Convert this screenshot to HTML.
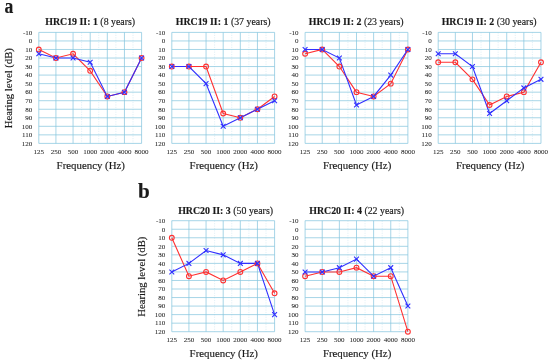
<!DOCTYPE html><html><head><meta charset="utf-8"><title>Audiograms</title><style>html,body{margin:0;padding:0;background:#fff}svg{display:block}</style></head><body><svg width="550" height="364" viewBox="0 0 550 364" font-family="'Liberation Serif', serif" fill="#1a1a1a" stroke="#1a1a1a" stroke-width="0.16">
<rect width="550" height="364" fill="#fff" stroke="none"/>
<line x1="81.62" y1="32.40" x2="81.62" y2="143.40" stroke="#cfe8f2" stroke-width="0.6" stroke-dasharray="1.2 1.2"/>
<line x1="98.75" y1="32.40" x2="98.75" y2="143.40" stroke="#cfe8f2" stroke-width="0.6" stroke-dasharray="1.2 1.2"/>
<line x1="115.88" y1="32.40" x2="115.88" y2="143.40" stroke="#cfe8f2" stroke-width="0.6" stroke-dasharray="1.2 1.2"/>
<line x1="133.01" y1="32.40" x2="133.01" y2="143.40" stroke="#cfe8f2" stroke-width="0.6" stroke-dasharray="1.2 1.2"/>
<line x1="38.80" y1="32.40" x2="38.80" y2="143.40" stroke="#84c4de" stroke-width="0.72"/>
<line x1="55.93" y1="32.40" x2="55.93" y2="143.40" stroke="#84c4de" stroke-width="0.72"/>
<line x1="73.06" y1="32.40" x2="73.06" y2="143.40" stroke="#84c4de" stroke-width="0.72"/>
<line x1="90.19" y1="32.40" x2="90.19" y2="143.40" stroke="#84c4de" stroke-width="0.72"/>
<line x1="107.32" y1="32.40" x2="107.32" y2="143.40" stroke="#84c4de" stroke-width="0.72"/>
<line x1="124.45" y1="32.40" x2="124.45" y2="143.40" stroke="#84c4de" stroke-width="0.72"/>
<line x1="141.58" y1="32.40" x2="141.58" y2="143.40" stroke="#84c4de" stroke-width="0.72"/>
<line x1="38.80" y1="32.40" x2="141.58" y2="32.40" stroke="#84c4de" stroke-width="0.72"/>
<text x="32.30" y="34.70" font-size="7" stroke-width="0.05" fill="#242424" text-anchor="end">-10</text>
<line x1="38.80" y1="40.94" x2="141.58" y2="40.94" stroke="#84c4de" stroke-width="0.72"/>
<text x="32.30" y="43.24" font-size="7" stroke-width="0.05" fill="#242424" text-anchor="end">0</text>
<line x1="38.80" y1="49.48" x2="141.58" y2="49.48" stroke="#84c4de" stroke-width="0.72"/>
<text x="32.30" y="51.78" font-size="7" stroke-width="0.05" fill="#242424" text-anchor="end">10</text>
<line x1="38.80" y1="58.02" x2="141.58" y2="58.02" stroke="#84c4de" stroke-width="0.72"/>
<text x="32.30" y="60.32" font-size="7" stroke-width="0.05" fill="#242424" text-anchor="end">20</text>
<line x1="38.80" y1="66.55" x2="141.58" y2="66.55" stroke="#84c4de" stroke-width="0.72"/>
<text x="32.30" y="68.85" font-size="7" stroke-width="0.05" fill="#242424" text-anchor="end">30</text>
<line x1="38.80" y1="75.09" x2="141.58" y2="75.09" stroke="#84c4de" stroke-width="0.72"/>
<text x="32.30" y="77.39" font-size="7" stroke-width="0.05" fill="#242424" text-anchor="end">40</text>
<line x1="38.80" y1="83.63" x2="141.58" y2="83.63" stroke="#84c4de" stroke-width="0.72"/>
<text x="32.30" y="85.93" font-size="7" stroke-width="0.05" fill="#242424" text-anchor="end">50</text>
<line x1="38.80" y1="92.17" x2="141.58" y2="92.17" stroke="#84c4de" stroke-width="0.72"/>
<text x="32.30" y="94.47" font-size="7" stroke-width="0.05" fill="#242424" text-anchor="end">60</text>
<line x1="38.80" y1="100.71" x2="141.58" y2="100.71" stroke="#84c4de" stroke-width="0.72"/>
<text x="32.30" y="103.01" font-size="7" stroke-width="0.05" fill="#242424" text-anchor="end">70</text>
<line x1="38.80" y1="109.25" x2="141.58" y2="109.25" stroke="#84c4de" stroke-width="0.72"/>
<text x="32.30" y="111.55" font-size="7" stroke-width="0.05" fill="#242424" text-anchor="end">80</text>
<line x1="38.80" y1="117.78" x2="141.58" y2="117.78" stroke="#84c4de" stroke-width="0.72"/>
<text x="32.30" y="120.08" font-size="7" stroke-width="0.05" fill="#242424" text-anchor="end">90</text>
<line x1="38.80" y1="126.32" x2="141.58" y2="126.32" stroke="#84c4de" stroke-width="0.72"/>
<text x="32.30" y="128.62" font-size="7" stroke-width="0.05" fill="#242424" text-anchor="end">100</text>
<line x1="38.80" y1="134.86" x2="141.58" y2="134.86" stroke="#84c4de" stroke-width="0.72"/>
<text x="32.30" y="137.16" font-size="7" stroke-width="0.05" fill="#242424" text-anchor="end">110</text>
<line x1="38.80" y1="143.40" x2="141.58" y2="143.40" stroke="#84c4de" stroke-width="0.72"/>
<text x="32.30" y="145.70" font-size="7" stroke-width="0.05" fill="#242424" text-anchor="end">120</text>
<text x="38.80" y="153.60" font-size="7" stroke-width="0.05" fill="#242424" text-anchor="middle">125</text>
<text x="55.93" y="153.60" font-size="7" stroke-width="0.05" fill="#242424" text-anchor="middle">250</text>
<text x="73.06" y="153.60" font-size="7" stroke-width="0.05" fill="#242424" text-anchor="middle">500</text>
<text x="90.19" y="153.60" font-size="7" stroke-width="0.05" fill="#242424" text-anchor="middle">1000</text>
<text x="107.32" y="153.60" font-size="7" stroke-width="0.05" fill="#242424" text-anchor="middle">2000</text>
<text x="124.45" y="153.60" font-size="7" stroke-width="0.05" fill="#242424" text-anchor="middle">4000</text>
<text x="141.58" y="153.60" font-size="7" stroke-width="0.05" fill="#242424" text-anchor="middle">8000</text>
<text x="90.79" y="169.10" font-size="10.85" text-anchor="middle">Frequency (Hz)</text>
<text x="90.19" y="25.40" font-size="9.9" text-anchor="middle"><tspan font-weight="bold">HRC19 II: 1</tspan> (8 years)</text>
<polyline fill="none" stroke="#ff3030" stroke-width="1.1" points="38.80,49.48 55.93,58.02 73.06,53.75 90.19,70.82 107.32,96.44 124.45,92.17 141.58,58.02"/>
<polyline fill="none" stroke="#3030ff" stroke-width="1.1" points="38.80,53.75 55.93,58.02 73.06,58.02 90.19,62.28 107.32,96.44 124.45,92.17 141.58,58.02"/>
<circle cx="38.80" cy="49.48" r="2.4" fill="none" stroke="#ff3030" stroke-width="1.1"/>
<circle cx="55.93" cy="58.02" r="2.4" fill="none" stroke="#ff3030" stroke-width="1.1"/>
<circle cx="73.06" cy="53.75" r="2.4" fill="none" stroke="#ff3030" stroke-width="1.1"/>
<circle cx="90.19" cy="70.82" r="2.4" fill="none" stroke="#ff3030" stroke-width="1.1"/>
<circle cx="107.32" cy="96.44" r="2.4" fill="none" stroke="#ff3030" stroke-width="1.1"/>
<circle cx="124.45" cy="92.17" r="2.4" fill="none" stroke="#ff3030" stroke-width="1.1"/>
<circle cx="141.58" cy="58.02" r="2.4" fill="none" stroke="#ff3030" stroke-width="1.1"/>
<path d="M36.40 51.35L41.20 56.15M36.40 56.15L41.20 51.35" fill="none" stroke="#3030ff" stroke-width="1.1"/>
<path d="M53.53 55.62L58.33 60.42M53.53 60.42L58.33 55.62" fill="none" stroke="#3030ff" stroke-width="1.1"/>
<path d="M70.66 55.62L75.46 60.42M70.66 60.42L75.46 55.62" fill="none" stroke="#3030ff" stroke-width="1.1"/>
<path d="M87.79 59.88L92.59 64.68M87.79 64.68L92.59 59.88" fill="none" stroke="#3030ff" stroke-width="1.1"/>
<path d="M104.92 94.04L109.72 98.84M104.92 98.84L109.72 94.04" fill="none" stroke="#3030ff" stroke-width="1.1"/>
<path d="M122.05 89.77L126.85 94.57M122.05 94.57L126.85 89.77" fill="none" stroke="#3030ff" stroke-width="1.1"/>
<path d="M139.18 55.62L143.98 60.42M139.18 60.42L143.98 55.62" fill="none" stroke="#3030ff" stroke-width="1.1"/>
<line x1="214.62" y1="32.40" x2="214.62" y2="143.40" stroke="#cfe8f2" stroke-width="0.6" stroke-dasharray="1.2 1.2"/>
<line x1="231.75" y1="32.40" x2="231.75" y2="143.40" stroke="#cfe8f2" stroke-width="0.6" stroke-dasharray="1.2 1.2"/>
<line x1="248.88" y1="32.40" x2="248.88" y2="143.40" stroke="#cfe8f2" stroke-width="0.6" stroke-dasharray="1.2 1.2"/>
<line x1="266.01" y1="32.40" x2="266.01" y2="143.40" stroke="#cfe8f2" stroke-width="0.6" stroke-dasharray="1.2 1.2"/>
<line x1="171.80" y1="32.40" x2="171.80" y2="143.40" stroke="#84c4de" stroke-width="0.72"/>
<line x1="188.93" y1="32.40" x2="188.93" y2="143.40" stroke="#84c4de" stroke-width="0.72"/>
<line x1="206.06" y1="32.40" x2="206.06" y2="143.40" stroke="#84c4de" stroke-width="0.72"/>
<line x1="223.19" y1="32.40" x2="223.19" y2="143.40" stroke="#84c4de" stroke-width="0.72"/>
<line x1="240.32" y1="32.40" x2="240.32" y2="143.40" stroke="#84c4de" stroke-width="0.72"/>
<line x1="257.45" y1="32.40" x2="257.45" y2="143.40" stroke="#84c4de" stroke-width="0.72"/>
<line x1="274.58" y1="32.40" x2="274.58" y2="143.40" stroke="#84c4de" stroke-width="0.72"/>
<line x1="171.80" y1="32.40" x2="274.58" y2="32.40" stroke="#84c4de" stroke-width="0.72"/>
<text x="165.30" y="34.70" font-size="7" stroke-width="0.05" fill="#242424" text-anchor="end">-10</text>
<line x1="171.80" y1="40.94" x2="274.58" y2="40.94" stroke="#84c4de" stroke-width="0.72"/>
<text x="165.30" y="43.24" font-size="7" stroke-width="0.05" fill="#242424" text-anchor="end">0</text>
<line x1="171.80" y1="49.48" x2="274.58" y2="49.48" stroke="#84c4de" stroke-width="0.72"/>
<text x="165.30" y="51.78" font-size="7" stroke-width="0.05" fill="#242424" text-anchor="end">10</text>
<line x1="171.80" y1="58.02" x2="274.58" y2="58.02" stroke="#84c4de" stroke-width="0.72"/>
<text x="165.30" y="60.32" font-size="7" stroke-width="0.05" fill="#242424" text-anchor="end">20</text>
<line x1="171.80" y1="66.55" x2="274.58" y2="66.55" stroke="#84c4de" stroke-width="0.72"/>
<text x="165.30" y="68.85" font-size="7" stroke-width="0.05" fill="#242424" text-anchor="end">30</text>
<line x1="171.80" y1="75.09" x2="274.58" y2="75.09" stroke="#84c4de" stroke-width="0.72"/>
<text x="165.30" y="77.39" font-size="7" stroke-width="0.05" fill="#242424" text-anchor="end">40</text>
<line x1="171.80" y1="83.63" x2="274.58" y2="83.63" stroke="#84c4de" stroke-width="0.72"/>
<text x="165.30" y="85.93" font-size="7" stroke-width="0.05" fill="#242424" text-anchor="end">50</text>
<line x1="171.80" y1="92.17" x2="274.58" y2="92.17" stroke="#84c4de" stroke-width="0.72"/>
<text x="165.30" y="94.47" font-size="7" stroke-width="0.05" fill="#242424" text-anchor="end">60</text>
<line x1="171.80" y1="100.71" x2="274.58" y2="100.71" stroke="#84c4de" stroke-width="0.72"/>
<text x="165.30" y="103.01" font-size="7" stroke-width="0.05" fill="#242424" text-anchor="end">70</text>
<line x1="171.80" y1="109.25" x2="274.58" y2="109.25" stroke="#84c4de" stroke-width="0.72"/>
<text x="165.30" y="111.55" font-size="7" stroke-width="0.05" fill="#242424" text-anchor="end">80</text>
<line x1="171.80" y1="117.78" x2="274.58" y2="117.78" stroke="#84c4de" stroke-width="0.72"/>
<text x="165.30" y="120.08" font-size="7" stroke-width="0.05" fill="#242424" text-anchor="end">90</text>
<line x1="171.80" y1="126.32" x2="274.58" y2="126.32" stroke="#84c4de" stroke-width="0.72"/>
<text x="165.30" y="128.62" font-size="7" stroke-width="0.05" fill="#242424" text-anchor="end">100</text>
<line x1="171.80" y1="134.86" x2="274.58" y2="134.86" stroke="#84c4de" stroke-width="0.72"/>
<text x="165.30" y="137.16" font-size="7" stroke-width="0.05" fill="#242424" text-anchor="end">110</text>
<line x1="171.80" y1="143.40" x2="274.58" y2="143.40" stroke="#84c4de" stroke-width="0.72"/>
<text x="165.30" y="145.70" font-size="7" stroke-width="0.05" fill="#242424" text-anchor="end">120</text>
<text x="171.80" y="153.60" font-size="7" stroke-width="0.05" fill="#242424" text-anchor="middle">125</text>
<text x="188.93" y="153.60" font-size="7" stroke-width="0.05" fill="#242424" text-anchor="middle">250</text>
<text x="206.06" y="153.60" font-size="7" stroke-width="0.05" fill="#242424" text-anchor="middle">500</text>
<text x="223.19" y="153.60" font-size="7" stroke-width="0.05" fill="#242424" text-anchor="middle">1000</text>
<text x="240.32" y="153.60" font-size="7" stroke-width="0.05" fill="#242424" text-anchor="middle">2000</text>
<text x="257.45" y="153.60" font-size="7" stroke-width="0.05" fill="#242424" text-anchor="middle">4000</text>
<text x="274.58" y="153.60" font-size="7" stroke-width="0.05" fill="#242424" text-anchor="middle">8000</text>
<text x="223.79" y="169.10" font-size="10.85" text-anchor="middle">Frequency (Hz)</text>
<text x="223.19" y="25.40" font-size="9.9" text-anchor="middle"><tspan font-weight="bold">HRC19 II: 1</tspan> (37 years)</text>
<polyline fill="none" stroke="#ff3030" stroke-width="1.1" points="171.80,66.55 188.93,66.55 206.06,66.55 223.19,113.52 240.32,117.78 257.45,109.25 274.58,96.44"/>
<polyline fill="none" stroke="#3030ff" stroke-width="1.1" points="171.80,66.55 188.93,66.55 206.06,83.63 223.19,126.32 240.32,117.78 257.45,109.25 274.58,100.71"/>
<circle cx="171.80" cy="66.55" r="2.4" fill="none" stroke="#ff3030" stroke-width="1.1"/>
<circle cx="188.93" cy="66.55" r="2.4" fill="none" stroke="#ff3030" stroke-width="1.1"/>
<circle cx="206.06" cy="66.55" r="2.4" fill="none" stroke="#ff3030" stroke-width="1.1"/>
<circle cx="223.19" cy="113.52" r="2.4" fill="none" stroke="#ff3030" stroke-width="1.1"/>
<circle cx="240.32" cy="117.78" r="2.4" fill="none" stroke="#ff3030" stroke-width="1.1"/>
<circle cx="257.45" cy="109.25" r="2.4" fill="none" stroke="#ff3030" stroke-width="1.1"/>
<circle cx="274.58" cy="96.44" r="2.4" fill="none" stroke="#ff3030" stroke-width="1.1"/>
<path d="M169.40 64.15L174.20 68.95M169.40 68.95L174.20 64.15" fill="none" stroke="#3030ff" stroke-width="1.1"/>
<path d="M186.53 64.15L191.33 68.95M186.53 68.95L191.33 64.15" fill="none" stroke="#3030ff" stroke-width="1.1"/>
<path d="M203.66 81.23L208.46 86.03M203.66 86.03L208.46 81.23" fill="none" stroke="#3030ff" stroke-width="1.1"/>
<path d="M220.79 123.92L225.59 128.72M220.79 128.72L225.59 123.92" fill="none" stroke="#3030ff" stroke-width="1.1"/>
<path d="M237.92 115.38L242.72 120.18M237.92 120.18L242.72 115.38" fill="none" stroke="#3030ff" stroke-width="1.1"/>
<path d="M255.05 106.85L259.85 111.65M255.05 111.65L259.85 106.85" fill="none" stroke="#3030ff" stroke-width="1.1"/>
<path d="M272.18 98.31L276.98 103.11M272.18 103.11L276.98 98.31" fill="none" stroke="#3030ff" stroke-width="1.1"/>
<line x1="347.93" y1="32.40" x2="347.93" y2="143.40" stroke="#cfe8f2" stroke-width="0.6" stroke-dasharray="1.2 1.2"/>
<line x1="365.06" y1="32.40" x2="365.06" y2="143.40" stroke="#cfe8f2" stroke-width="0.6" stroke-dasharray="1.2 1.2"/>
<line x1="382.19" y1="32.40" x2="382.19" y2="143.40" stroke="#cfe8f2" stroke-width="0.6" stroke-dasharray="1.2 1.2"/>
<line x1="399.31" y1="32.40" x2="399.31" y2="143.40" stroke="#cfe8f2" stroke-width="0.6" stroke-dasharray="1.2 1.2"/>
<line x1="305.10" y1="32.40" x2="305.10" y2="143.40" stroke="#84c4de" stroke-width="0.72"/>
<line x1="322.23" y1="32.40" x2="322.23" y2="143.40" stroke="#84c4de" stroke-width="0.72"/>
<line x1="339.36" y1="32.40" x2="339.36" y2="143.40" stroke="#84c4de" stroke-width="0.72"/>
<line x1="356.49" y1="32.40" x2="356.49" y2="143.40" stroke="#84c4de" stroke-width="0.72"/>
<line x1="373.62" y1="32.40" x2="373.62" y2="143.40" stroke="#84c4de" stroke-width="0.72"/>
<line x1="390.75" y1="32.40" x2="390.75" y2="143.40" stroke="#84c4de" stroke-width="0.72"/>
<line x1="407.88" y1="32.40" x2="407.88" y2="143.40" stroke="#84c4de" stroke-width="0.72"/>
<line x1="305.10" y1="32.40" x2="407.88" y2="32.40" stroke="#84c4de" stroke-width="0.72"/>
<text x="298.60" y="34.70" font-size="7" stroke-width="0.05" fill="#242424" text-anchor="end">-10</text>
<line x1="305.10" y1="40.94" x2="407.88" y2="40.94" stroke="#84c4de" stroke-width="0.72"/>
<text x="298.60" y="43.24" font-size="7" stroke-width="0.05" fill="#242424" text-anchor="end">0</text>
<line x1="305.10" y1="49.48" x2="407.88" y2="49.48" stroke="#84c4de" stroke-width="0.72"/>
<text x="298.60" y="51.78" font-size="7" stroke-width="0.05" fill="#242424" text-anchor="end">10</text>
<line x1="305.10" y1="58.02" x2="407.88" y2="58.02" stroke="#84c4de" stroke-width="0.72"/>
<text x="298.60" y="60.32" font-size="7" stroke-width="0.05" fill="#242424" text-anchor="end">20</text>
<line x1="305.10" y1="66.55" x2="407.88" y2="66.55" stroke="#84c4de" stroke-width="0.72"/>
<text x="298.60" y="68.85" font-size="7" stroke-width="0.05" fill="#242424" text-anchor="end">30</text>
<line x1="305.10" y1="75.09" x2="407.88" y2="75.09" stroke="#84c4de" stroke-width="0.72"/>
<text x="298.60" y="77.39" font-size="7" stroke-width="0.05" fill="#242424" text-anchor="end">40</text>
<line x1="305.10" y1="83.63" x2="407.88" y2="83.63" stroke="#84c4de" stroke-width="0.72"/>
<text x="298.60" y="85.93" font-size="7" stroke-width="0.05" fill="#242424" text-anchor="end">50</text>
<line x1="305.10" y1="92.17" x2="407.88" y2="92.17" stroke="#84c4de" stroke-width="0.72"/>
<text x="298.60" y="94.47" font-size="7" stroke-width="0.05" fill="#242424" text-anchor="end">60</text>
<line x1="305.10" y1="100.71" x2="407.88" y2="100.71" stroke="#84c4de" stroke-width="0.72"/>
<text x="298.60" y="103.01" font-size="7" stroke-width="0.05" fill="#242424" text-anchor="end">70</text>
<line x1="305.10" y1="109.25" x2="407.88" y2="109.25" stroke="#84c4de" stroke-width="0.72"/>
<text x="298.60" y="111.55" font-size="7" stroke-width="0.05" fill="#242424" text-anchor="end">80</text>
<line x1="305.10" y1="117.78" x2="407.88" y2="117.78" stroke="#84c4de" stroke-width="0.72"/>
<text x="298.60" y="120.08" font-size="7" stroke-width="0.05" fill="#242424" text-anchor="end">90</text>
<line x1="305.10" y1="126.32" x2="407.88" y2="126.32" stroke="#84c4de" stroke-width="0.72"/>
<text x="298.60" y="128.62" font-size="7" stroke-width="0.05" fill="#242424" text-anchor="end">100</text>
<line x1="305.10" y1="134.86" x2="407.88" y2="134.86" stroke="#84c4de" stroke-width="0.72"/>
<text x="298.60" y="137.16" font-size="7" stroke-width="0.05" fill="#242424" text-anchor="end">110</text>
<line x1="305.10" y1="143.40" x2="407.88" y2="143.40" stroke="#84c4de" stroke-width="0.72"/>
<text x="298.60" y="145.70" font-size="7" stroke-width="0.05" fill="#242424" text-anchor="end">120</text>
<text x="305.10" y="153.60" font-size="7" stroke-width="0.05" fill="#242424" text-anchor="middle">125</text>
<text x="322.23" y="153.60" font-size="7" stroke-width="0.05" fill="#242424" text-anchor="middle">250</text>
<text x="339.36" y="153.60" font-size="7" stroke-width="0.05" fill="#242424" text-anchor="middle">500</text>
<text x="356.49" y="153.60" font-size="7" stroke-width="0.05" fill="#242424" text-anchor="middle">1000</text>
<text x="373.62" y="153.60" font-size="7" stroke-width="0.05" fill="#242424" text-anchor="middle">2000</text>
<text x="390.75" y="153.60" font-size="7" stroke-width="0.05" fill="#242424" text-anchor="middle">4000</text>
<text x="407.88" y="153.60" font-size="7" stroke-width="0.05" fill="#242424" text-anchor="middle">8000</text>
<text x="357.09" y="169.10" font-size="10.85" text-anchor="middle">Frequency (Hz)</text>
<text x="356.19" y="25.40" font-size="9.9" text-anchor="middle"><tspan font-weight="bold">HRC19 II: 2</tspan> (23 years)</text>
<polyline fill="none" stroke="#ff3030" stroke-width="1.1" points="305.10,53.75 322.23,49.48 339.36,66.55 356.49,92.17 373.62,96.44 390.75,83.63 407.88,49.48"/>
<polyline fill="none" stroke="#3030ff" stroke-width="1.1" points="305.10,49.48 322.23,49.48 339.36,58.02 356.49,104.98 373.62,96.44 390.75,75.09 407.88,49.48"/>
<circle cx="305.10" cy="53.75" r="2.4" fill="none" stroke="#ff3030" stroke-width="1.1"/>
<circle cx="322.23" cy="49.48" r="2.4" fill="none" stroke="#ff3030" stroke-width="1.1"/>
<circle cx="339.36" cy="66.55" r="2.4" fill="none" stroke="#ff3030" stroke-width="1.1"/>
<circle cx="356.49" cy="92.17" r="2.4" fill="none" stroke="#ff3030" stroke-width="1.1"/>
<circle cx="373.62" cy="96.44" r="2.4" fill="none" stroke="#ff3030" stroke-width="1.1"/>
<circle cx="390.75" cy="83.63" r="2.4" fill="none" stroke="#ff3030" stroke-width="1.1"/>
<circle cx="407.88" cy="49.48" r="2.4" fill="none" stroke="#ff3030" stroke-width="1.1"/>
<path d="M302.70 47.08L307.50 51.88M302.70 51.88L307.50 47.08" fill="none" stroke="#3030ff" stroke-width="1.1"/>
<path d="M319.83 47.08L324.63 51.88M319.83 51.88L324.63 47.08" fill="none" stroke="#3030ff" stroke-width="1.1"/>
<path d="M336.96 55.62L341.76 60.42M336.96 60.42L341.76 55.62" fill="none" stroke="#3030ff" stroke-width="1.1"/>
<path d="M354.09 102.58L358.89 107.38M354.09 107.38L358.89 102.58" fill="none" stroke="#3030ff" stroke-width="1.1"/>
<path d="M371.22 94.04L376.02 98.84M371.22 98.84L376.02 94.04" fill="none" stroke="#3030ff" stroke-width="1.1"/>
<path d="M388.35 72.69L393.15 77.49M388.35 77.49L393.15 72.69" fill="none" stroke="#3030ff" stroke-width="1.1"/>
<path d="M405.48 47.08L410.28 51.88M405.48 51.88L410.28 47.08" fill="none" stroke="#3030ff" stroke-width="1.1"/>
<line x1="481.02" y1="32.40" x2="481.02" y2="143.40" stroke="#cfe8f2" stroke-width="0.6" stroke-dasharray="1.2 1.2"/>
<line x1="498.15" y1="32.40" x2="498.15" y2="143.40" stroke="#cfe8f2" stroke-width="0.6" stroke-dasharray="1.2 1.2"/>
<line x1="515.28" y1="32.40" x2="515.28" y2="143.40" stroke="#cfe8f2" stroke-width="0.6" stroke-dasharray="1.2 1.2"/>
<line x1="532.41" y1="32.40" x2="532.41" y2="143.40" stroke="#cfe8f2" stroke-width="0.6" stroke-dasharray="1.2 1.2"/>
<line x1="438.20" y1="32.40" x2="438.20" y2="143.40" stroke="#84c4de" stroke-width="0.72"/>
<line x1="455.33" y1="32.40" x2="455.33" y2="143.40" stroke="#84c4de" stroke-width="0.72"/>
<line x1="472.46" y1="32.40" x2="472.46" y2="143.40" stroke="#84c4de" stroke-width="0.72"/>
<line x1="489.59" y1="32.40" x2="489.59" y2="143.40" stroke="#84c4de" stroke-width="0.72"/>
<line x1="506.72" y1="32.40" x2="506.72" y2="143.40" stroke="#84c4de" stroke-width="0.72"/>
<line x1="523.85" y1="32.40" x2="523.85" y2="143.40" stroke="#84c4de" stroke-width="0.72"/>
<line x1="540.98" y1="32.40" x2="540.98" y2="143.40" stroke="#84c4de" stroke-width="0.72"/>
<line x1="438.20" y1="32.40" x2="540.98" y2="32.40" stroke="#84c4de" stroke-width="0.72"/>
<text x="431.70" y="34.70" font-size="7" stroke-width="0.05" fill="#242424" text-anchor="end">-10</text>
<line x1="438.20" y1="40.94" x2="540.98" y2="40.94" stroke="#84c4de" stroke-width="0.72"/>
<text x="431.70" y="43.24" font-size="7" stroke-width="0.05" fill="#242424" text-anchor="end">0</text>
<line x1="438.20" y1="49.48" x2="540.98" y2="49.48" stroke="#84c4de" stroke-width="0.72"/>
<text x="431.70" y="51.78" font-size="7" stroke-width="0.05" fill="#242424" text-anchor="end">10</text>
<line x1="438.20" y1="58.02" x2="540.98" y2="58.02" stroke="#84c4de" stroke-width="0.72"/>
<text x="431.70" y="60.32" font-size="7" stroke-width="0.05" fill="#242424" text-anchor="end">20</text>
<line x1="438.20" y1="66.55" x2="540.98" y2="66.55" stroke="#84c4de" stroke-width="0.72"/>
<text x="431.70" y="68.85" font-size="7" stroke-width="0.05" fill="#242424" text-anchor="end">30</text>
<line x1="438.20" y1="75.09" x2="540.98" y2="75.09" stroke="#84c4de" stroke-width="0.72"/>
<text x="431.70" y="77.39" font-size="7" stroke-width="0.05" fill="#242424" text-anchor="end">40</text>
<line x1="438.20" y1="83.63" x2="540.98" y2="83.63" stroke="#84c4de" stroke-width="0.72"/>
<text x="431.70" y="85.93" font-size="7" stroke-width="0.05" fill="#242424" text-anchor="end">50</text>
<line x1="438.20" y1="92.17" x2="540.98" y2="92.17" stroke="#84c4de" stroke-width="0.72"/>
<text x="431.70" y="94.47" font-size="7" stroke-width="0.05" fill="#242424" text-anchor="end">60</text>
<line x1="438.20" y1="100.71" x2="540.98" y2="100.71" stroke="#84c4de" stroke-width="0.72"/>
<text x="431.70" y="103.01" font-size="7" stroke-width="0.05" fill="#242424" text-anchor="end">70</text>
<line x1="438.20" y1="109.25" x2="540.98" y2="109.25" stroke="#84c4de" stroke-width="0.72"/>
<text x="431.70" y="111.55" font-size="7" stroke-width="0.05" fill="#242424" text-anchor="end">80</text>
<line x1="438.20" y1="117.78" x2="540.98" y2="117.78" stroke="#84c4de" stroke-width="0.72"/>
<text x="431.70" y="120.08" font-size="7" stroke-width="0.05" fill="#242424" text-anchor="end">90</text>
<line x1="438.20" y1="126.32" x2="540.98" y2="126.32" stroke="#84c4de" stroke-width="0.72"/>
<text x="431.70" y="128.62" font-size="7" stroke-width="0.05" fill="#242424" text-anchor="end">100</text>
<line x1="438.20" y1="134.86" x2="540.98" y2="134.86" stroke="#84c4de" stroke-width="0.72"/>
<text x="431.70" y="137.16" font-size="7" stroke-width="0.05" fill="#242424" text-anchor="end">110</text>
<line x1="438.20" y1="143.40" x2="540.98" y2="143.40" stroke="#84c4de" stroke-width="0.72"/>
<text x="431.70" y="145.70" font-size="7" stroke-width="0.05" fill="#242424" text-anchor="end">120</text>
<text x="438.20" y="153.60" font-size="7" stroke-width="0.05" fill="#242424" text-anchor="middle">125</text>
<text x="455.33" y="153.60" font-size="7" stroke-width="0.05" fill="#242424" text-anchor="middle">250</text>
<text x="472.46" y="153.60" font-size="7" stroke-width="0.05" fill="#242424" text-anchor="middle">500</text>
<text x="489.59" y="153.60" font-size="7" stroke-width="0.05" fill="#242424" text-anchor="middle">1000</text>
<text x="506.72" y="153.60" font-size="7" stroke-width="0.05" fill="#242424" text-anchor="middle">2000</text>
<text x="523.85" y="153.60" font-size="7" stroke-width="0.05" fill="#242424" text-anchor="middle">4000</text>
<text x="540.98" y="153.60" font-size="7" stroke-width="0.05" fill="#242424" text-anchor="middle">8000</text>
<text x="490.19" y="169.10" font-size="10.85" text-anchor="middle">Frequency (Hz)</text>
<text x="489.09" y="25.40" font-size="9.9" text-anchor="middle"><tspan font-weight="bold">HRC19 II: 2</tspan> (30 years)</text>
<polyline fill="none" stroke="#ff3030" stroke-width="1.1" points="438.20,62.28 455.33,62.28 472.46,79.36 489.59,104.98 506.72,96.44 523.85,92.17 540.98,62.28"/>
<polyline fill="none" stroke="#3030ff" stroke-width="1.1" points="438.20,53.75 455.33,53.75 472.46,66.55 489.59,113.52 506.72,100.71 523.85,87.90 540.98,79.36"/>
<circle cx="438.20" cy="62.28" r="2.4" fill="none" stroke="#ff3030" stroke-width="1.1"/>
<circle cx="455.33" cy="62.28" r="2.4" fill="none" stroke="#ff3030" stroke-width="1.1"/>
<circle cx="472.46" cy="79.36" r="2.4" fill="none" stroke="#ff3030" stroke-width="1.1"/>
<circle cx="489.59" cy="104.98" r="2.4" fill="none" stroke="#ff3030" stroke-width="1.1"/>
<circle cx="506.72" cy="96.44" r="2.4" fill="none" stroke="#ff3030" stroke-width="1.1"/>
<circle cx="523.85" cy="92.17" r="2.4" fill="none" stroke="#ff3030" stroke-width="1.1"/>
<circle cx="540.98" cy="62.28" r="2.4" fill="none" stroke="#ff3030" stroke-width="1.1"/>
<path d="M435.80 51.35L440.60 56.15M435.80 56.15L440.60 51.35" fill="none" stroke="#3030ff" stroke-width="1.1"/>
<path d="M452.93 51.35L457.73 56.15M452.93 56.15L457.73 51.35" fill="none" stroke="#3030ff" stroke-width="1.1"/>
<path d="M470.06 64.15L474.86 68.95M470.06 68.95L474.86 64.15" fill="none" stroke="#3030ff" stroke-width="1.1"/>
<path d="M487.19 111.12L491.99 115.92M487.19 115.92L491.99 111.12" fill="none" stroke="#3030ff" stroke-width="1.1"/>
<path d="M504.32 98.31L509.12 103.11M504.32 103.11L509.12 98.31" fill="none" stroke="#3030ff" stroke-width="1.1"/>
<path d="M521.45 85.50L526.25 90.30M521.45 90.30L526.25 85.50" fill="none" stroke="#3030ff" stroke-width="1.1"/>
<path d="M538.58 76.96L543.38 81.76M538.58 81.76L543.38 76.96" fill="none" stroke="#3030ff" stroke-width="1.1"/>
<line x1="214.62" y1="220.70" x2="214.62" y2="331.70" stroke="#cfe8f2" stroke-width="0.6" stroke-dasharray="1.2 1.2"/>
<line x1="231.75" y1="220.70" x2="231.75" y2="331.70" stroke="#cfe8f2" stroke-width="0.6" stroke-dasharray="1.2 1.2"/>
<line x1="248.88" y1="220.70" x2="248.88" y2="331.70" stroke="#cfe8f2" stroke-width="0.6" stroke-dasharray="1.2 1.2"/>
<line x1="266.01" y1="220.70" x2="266.01" y2="331.70" stroke="#cfe8f2" stroke-width="0.6" stroke-dasharray="1.2 1.2"/>
<line x1="171.80" y1="220.70" x2="171.80" y2="331.70" stroke="#84c4de" stroke-width="0.72"/>
<line x1="188.93" y1="220.70" x2="188.93" y2="331.70" stroke="#84c4de" stroke-width="0.72"/>
<line x1="206.06" y1="220.70" x2="206.06" y2="331.70" stroke="#84c4de" stroke-width="0.72"/>
<line x1="223.19" y1="220.70" x2="223.19" y2="331.70" stroke="#84c4de" stroke-width="0.72"/>
<line x1="240.32" y1="220.70" x2="240.32" y2="331.70" stroke="#84c4de" stroke-width="0.72"/>
<line x1="257.45" y1="220.70" x2="257.45" y2="331.70" stroke="#84c4de" stroke-width="0.72"/>
<line x1="274.58" y1="220.70" x2="274.58" y2="331.70" stroke="#84c4de" stroke-width="0.72"/>
<line x1="171.80" y1="220.70" x2="274.58" y2="220.70" stroke="#84c4de" stroke-width="0.72"/>
<text x="165.30" y="223.00" font-size="7" stroke-width="0.05" fill="#242424" text-anchor="end">-10</text>
<line x1="171.80" y1="229.24" x2="274.58" y2="229.24" stroke="#84c4de" stroke-width="0.72"/>
<text x="165.30" y="231.54" font-size="7" stroke-width="0.05" fill="#242424" text-anchor="end">0</text>
<line x1="171.80" y1="237.78" x2="274.58" y2="237.78" stroke="#84c4de" stroke-width="0.72"/>
<text x="165.30" y="240.08" font-size="7" stroke-width="0.05" fill="#242424" text-anchor="end">10</text>
<line x1="171.80" y1="246.32" x2="274.58" y2="246.32" stroke="#84c4de" stroke-width="0.72"/>
<text x="165.30" y="248.62" font-size="7" stroke-width="0.05" fill="#242424" text-anchor="end">20</text>
<line x1="171.80" y1="254.85" x2="274.58" y2="254.85" stroke="#84c4de" stroke-width="0.72"/>
<text x="165.30" y="257.15" font-size="7" stroke-width="0.05" fill="#242424" text-anchor="end">30</text>
<line x1="171.80" y1="263.39" x2="274.58" y2="263.39" stroke="#84c4de" stroke-width="0.72"/>
<text x="165.30" y="265.69" font-size="7" stroke-width="0.05" fill="#242424" text-anchor="end">40</text>
<line x1="171.80" y1="271.93" x2="274.58" y2="271.93" stroke="#84c4de" stroke-width="0.72"/>
<text x="165.30" y="274.23" font-size="7" stroke-width="0.05" fill="#242424" text-anchor="end">50</text>
<line x1="171.80" y1="280.47" x2="274.58" y2="280.47" stroke="#84c4de" stroke-width="0.72"/>
<text x="165.30" y="282.77" font-size="7" stroke-width="0.05" fill="#242424" text-anchor="end">60</text>
<line x1="171.80" y1="289.01" x2="274.58" y2="289.01" stroke="#84c4de" stroke-width="0.72"/>
<text x="165.30" y="291.31" font-size="7" stroke-width="0.05" fill="#242424" text-anchor="end">70</text>
<line x1="171.80" y1="297.55" x2="274.58" y2="297.55" stroke="#84c4de" stroke-width="0.72"/>
<text x="165.30" y="299.85" font-size="7" stroke-width="0.05" fill="#242424" text-anchor="end">80</text>
<line x1="171.80" y1="306.08" x2="274.58" y2="306.08" stroke="#84c4de" stroke-width="0.72"/>
<text x="165.30" y="308.38" font-size="7" stroke-width="0.05" fill="#242424" text-anchor="end">90</text>
<line x1="171.80" y1="314.62" x2="274.58" y2="314.62" stroke="#84c4de" stroke-width="0.72"/>
<text x="165.30" y="316.92" font-size="7" stroke-width="0.05" fill="#242424" text-anchor="end">100</text>
<line x1="171.80" y1="323.16" x2="274.58" y2="323.16" stroke="#84c4de" stroke-width="0.72"/>
<text x="165.30" y="325.46" font-size="7" stroke-width="0.05" fill="#242424" text-anchor="end">110</text>
<line x1="171.80" y1="331.70" x2="274.58" y2="331.70" stroke="#84c4de" stroke-width="0.72"/>
<text x="165.30" y="334.00" font-size="7" stroke-width="0.05" fill="#242424" text-anchor="end">120</text>
<text x="171.80" y="341.90" font-size="7" stroke-width="0.05" fill="#242424" text-anchor="middle">125</text>
<text x="188.93" y="341.90" font-size="7" stroke-width="0.05" fill="#242424" text-anchor="middle">250</text>
<text x="206.06" y="341.90" font-size="7" stroke-width="0.05" fill="#242424" text-anchor="middle">500</text>
<text x="223.19" y="341.90" font-size="7" stroke-width="0.05" fill="#242424" text-anchor="middle">1000</text>
<text x="240.32" y="341.90" font-size="7" stroke-width="0.05" fill="#242424" text-anchor="middle">2000</text>
<text x="257.45" y="341.90" font-size="7" stroke-width="0.05" fill="#242424" text-anchor="middle">4000</text>
<text x="274.58" y="341.90" font-size="7" stroke-width="0.05" fill="#242424" text-anchor="middle">8000</text>
<text x="223.79" y="357.40" font-size="10.85" text-anchor="middle">Frequency (Hz)</text>
<text x="225.59" y="213.70" font-size="9.9" text-anchor="middle"><tspan font-weight="bold">HRC20 II: 3</tspan> (50 years)</text>
<polyline fill="none" stroke="#ff3030" stroke-width="1.1" points="171.80,237.78 188.93,276.20 206.06,271.93 223.19,280.47 240.32,271.93 257.45,263.39 274.58,293.28"/>
<polyline fill="none" stroke="#3030ff" stroke-width="1.1" points="171.80,271.93 188.93,263.39 206.06,250.58 223.19,254.85 240.32,263.39 257.45,263.39 274.58,314.62"/>
<circle cx="171.80" cy="237.78" r="2.4" fill="none" stroke="#ff3030" stroke-width="1.1"/>
<circle cx="188.93" cy="276.20" r="2.4" fill="none" stroke="#ff3030" stroke-width="1.1"/>
<circle cx="206.06" cy="271.93" r="2.4" fill="none" stroke="#ff3030" stroke-width="1.1"/>
<circle cx="223.19" cy="280.47" r="2.4" fill="none" stroke="#ff3030" stroke-width="1.1"/>
<circle cx="240.32" cy="271.93" r="2.4" fill="none" stroke="#ff3030" stroke-width="1.1"/>
<circle cx="257.45" cy="263.39" r="2.4" fill="none" stroke="#ff3030" stroke-width="1.1"/>
<circle cx="274.58" cy="293.28" r="2.4" fill="none" stroke="#ff3030" stroke-width="1.1"/>
<path d="M169.40 269.53L174.20 274.33M169.40 274.33L174.20 269.53" fill="none" stroke="#3030ff" stroke-width="1.1"/>
<path d="M186.53 260.99L191.33 265.79M186.53 265.79L191.33 260.99" fill="none" stroke="#3030ff" stroke-width="1.1"/>
<path d="M203.66 248.18L208.46 252.98M203.66 252.98L208.46 248.18" fill="none" stroke="#3030ff" stroke-width="1.1"/>
<path d="M220.79 252.45L225.59 257.25M220.79 257.25L225.59 252.45" fill="none" stroke="#3030ff" stroke-width="1.1"/>
<path d="M237.92 260.99L242.72 265.79M237.92 265.79L242.72 260.99" fill="none" stroke="#3030ff" stroke-width="1.1"/>
<path d="M255.05 260.99L259.85 265.79M255.05 265.79L259.85 260.99" fill="none" stroke="#3030ff" stroke-width="1.1"/>
<path d="M272.18 312.22L276.98 317.02M272.18 317.02L276.98 312.22" fill="none" stroke="#3030ff" stroke-width="1.1"/>
<line x1="347.93" y1="220.70" x2="347.93" y2="331.70" stroke="#cfe8f2" stroke-width="0.6" stroke-dasharray="1.2 1.2"/>
<line x1="365.06" y1="220.70" x2="365.06" y2="331.70" stroke="#cfe8f2" stroke-width="0.6" stroke-dasharray="1.2 1.2"/>
<line x1="382.19" y1="220.70" x2="382.19" y2="331.70" stroke="#cfe8f2" stroke-width="0.6" stroke-dasharray="1.2 1.2"/>
<line x1="399.31" y1="220.70" x2="399.31" y2="331.70" stroke="#cfe8f2" stroke-width="0.6" stroke-dasharray="1.2 1.2"/>
<line x1="305.10" y1="220.70" x2="305.10" y2="331.70" stroke="#84c4de" stroke-width="0.72"/>
<line x1="322.23" y1="220.70" x2="322.23" y2="331.70" stroke="#84c4de" stroke-width="0.72"/>
<line x1="339.36" y1="220.70" x2="339.36" y2="331.70" stroke="#84c4de" stroke-width="0.72"/>
<line x1="356.49" y1="220.70" x2="356.49" y2="331.70" stroke="#84c4de" stroke-width="0.72"/>
<line x1="373.62" y1="220.70" x2="373.62" y2="331.70" stroke="#84c4de" stroke-width="0.72"/>
<line x1="390.75" y1="220.70" x2="390.75" y2="331.70" stroke="#84c4de" stroke-width="0.72"/>
<line x1="407.88" y1="220.70" x2="407.88" y2="331.70" stroke="#84c4de" stroke-width="0.72"/>
<line x1="305.10" y1="220.70" x2="407.88" y2="220.70" stroke="#84c4de" stroke-width="0.72"/>
<text x="298.60" y="223.00" font-size="7" stroke-width="0.05" fill="#242424" text-anchor="end">-10</text>
<line x1="305.10" y1="229.24" x2="407.88" y2="229.24" stroke="#84c4de" stroke-width="0.72"/>
<text x="298.60" y="231.54" font-size="7" stroke-width="0.05" fill="#242424" text-anchor="end">0</text>
<line x1="305.10" y1="237.78" x2="407.88" y2="237.78" stroke="#84c4de" stroke-width="0.72"/>
<text x="298.60" y="240.08" font-size="7" stroke-width="0.05" fill="#242424" text-anchor="end">10</text>
<line x1="305.10" y1="246.32" x2="407.88" y2="246.32" stroke="#84c4de" stroke-width="0.72"/>
<text x="298.60" y="248.62" font-size="7" stroke-width="0.05" fill="#242424" text-anchor="end">20</text>
<line x1="305.10" y1="254.85" x2="407.88" y2="254.85" stroke="#84c4de" stroke-width="0.72"/>
<text x="298.60" y="257.15" font-size="7" stroke-width="0.05" fill="#242424" text-anchor="end">30</text>
<line x1="305.10" y1="263.39" x2="407.88" y2="263.39" stroke="#84c4de" stroke-width="0.72"/>
<text x="298.60" y="265.69" font-size="7" stroke-width="0.05" fill="#242424" text-anchor="end">40</text>
<line x1="305.10" y1="271.93" x2="407.88" y2="271.93" stroke="#84c4de" stroke-width="0.72"/>
<text x="298.60" y="274.23" font-size="7" stroke-width="0.05" fill="#242424" text-anchor="end">50</text>
<line x1="305.10" y1="280.47" x2="407.88" y2="280.47" stroke="#84c4de" stroke-width="0.72"/>
<text x="298.60" y="282.77" font-size="7" stroke-width="0.05" fill="#242424" text-anchor="end">60</text>
<line x1="305.10" y1="289.01" x2="407.88" y2="289.01" stroke="#84c4de" stroke-width="0.72"/>
<text x="298.60" y="291.31" font-size="7" stroke-width="0.05" fill="#242424" text-anchor="end">70</text>
<line x1="305.10" y1="297.55" x2="407.88" y2="297.55" stroke="#84c4de" stroke-width="0.72"/>
<text x="298.60" y="299.85" font-size="7" stroke-width="0.05" fill="#242424" text-anchor="end">80</text>
<line x1="305.10" y1="306.08" x2="407.88" y2="306.08" stroke="#84c4de" stroke-width="0.72"/>
<text x="298.60" y="308.38" font-size="7" stroke-width="0.05" fill="#242424" text-anchor="end">90</text>
<line x1="305.10" y1="314.62" x2="407.88" y2="314.62" stroke="#84c4de" stroke-width="0.72"/>
<text x="298.60" y="316.92" font-size="7" stroke-width="0.05" fill="#242424" text-anchor="end">100</text>
<line x1="305.10" y1="323.16" x2="407.88" y2="323.16" stroke="#84c4de" stroke-width="0.72"/>
<text x="298.60" y="325.46" font-size="7" stroke-width="0.05" fill="#242424" text-anchor="end">110</text>
<line x1="305.10" y1="331.70" x2="407.88" y2="331.70" stroke="#84c4de" stroke-width="0.72"/>
<text x="298.60" y="334.00" font-size="7" stroke-width="0.05" fill="#242424" text-anchor="end">120</text>
<text x="305.10" y="341.90" font-size="7" stroke-width="0.05" fill="#242424" text-anchor="middle">125</text>
<text x="322.23" y="341.90" font-size="7" stroke-width="0.05" fill="#242424" text-anchor="middle">250</text>
<text x="339.36" y="341.90" font-size="7" stroke-width="0.05" fill="#242424" text-anchor="middle">500</text>
<text x="356.49" y="341.90" font-size="7" stroke-width="0.05" fill="#242424" text-anchor="middle">1000</text>
<text x="373.62" y="341.90" font-size="7" stroke-width="0.05" fill="#242424" text-anchor="middle">2000</text>
<text x="390.75" y="341.90" font-size="7" stroke-width="0.05" fill="#242424" text-anchor="middle">4000</text>
<text x="407.88" y="341.90" font-size="7" stroke-width="0.05" fill="#242424" text-anchor="middle">8000</text>
<text x="357.09" y="357.40" font-size="10.85" text-anchor="middle">Frequency (Hz)</text>
<text x="356.69" y="213.70" font-size="9.9" text-anchor="middle"><tspan font-weight="bold">HRC20 II: 4</tspan> (22 years)</text>
<polyline fill="none" stroke="#ff3030" stroke-width="1.1" points="305.10,276.20 322.23,271.93 339.36,271.93 356.49,267.66 373.62,276.20 390.75,276.20 407.88,331.70"/>
<polyline fill="none" stroke="#3030ff" stroke-width="1.1" points="305.10,271.93 322.23,271.93 339.36,267.66 356.49,259.12 373.62,276.20 390.75,267.66 407.88,306.08"/>
<circle cx="305.10" cy="276.20" r="2.4" fill="none" stroke="#ff3030" stroke-width="1.1"/>
<circle cx="322.23" cy="271.93" r="2.4" fill="none" stroke="#ff3030" stroke-width="1.1"/>
<circle cx="339.36" cy="271.93" r="2.4" fill="none" stroke="#ff3030" stroke-width="1.1"/>
<circle cx="356.49" cy="267.66" r="2.4" fill="none" stroke="#ff3030" stroke-width="1.1"/>
<circle cx="373.62" cy="276.20" r="2.4" fill="none" stroke="#ff3030" stroke-width="1.1"/>
<circle cx="390.75" cy="276.20" r="2.4" fill="none" stroke="#ff3030" stroke-width="1.1"/>
<circle cx="407.88" cy="331.70" r="2.4" fill="none" stroke="#ff3030" stroke-width="1.1"/>
<path d="M302.70 269.53L307.50 274.33M302.70 274.33L307.50 269.53" fill="none" stroke="#3030ff" stroke-width="1.1"/>
<path d="M319.83 269.53L324.63 274.33M319.83 274.33L324.63 269.53" fill="none" stroke="#3030ff" stroke-width="1.1"/>
<path d="M336.96 265.26L341.76 270.06M336.96 270.06L341.76 265.26" fill="none" stroke="#3030ff" stroke-width="1.1"/>
<path d="M354.09 256.72L358.89 261.52M354.09 261.52L358.89 256.72" fill="none" stroke="#3030ff" stroke-width="1.1"/>
<path d="M371.22 273.80L376.02 278.60M371.22 278.60L376.02 273.80" fill="none" stroke="#3030ff" stroke-width="1.1"/>
<path d="M388.35 265.26L393.15 270.06M388.35 270.06L393.15 265.26" fill="none" stroke="#3030ff" stroke-width="1.1"/>
<path d="M405.48 303.68L410.28 308.48M405.48 308.48L410.28 303.68" fill="none" stroke="#3030ff" stroke-width="1.1"/>
<text transform="translate(12.3 88.2) rotate(-90)" font-size="10.7" text-anchor="middle">Hearing level (dB)</text>
<text transform="translate(145.4 276.7) rotate(-90)" font-size="10.7" text-anchor="middle">Hearing level (dB)</text>
<text transform="translate(4.6 13.3) scale(0.84 1)" font-size="21" font-weight="bold">a</text>
<text x="138" y="197.6" font-size="21.2" font-weight="bold">b</text>
</svg></body></html>
